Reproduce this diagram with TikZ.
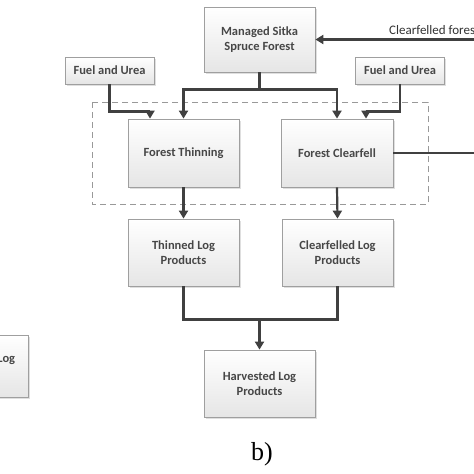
\documentclass[tikz,border=0pt]{standalone}
\usepackage{fontspec}
\setmainfont{Carlito}
\newfontfamily\labelfont{Liberation Serif}
\usetikzlibrary{arrows.meta,shadows}

\tikzset{
  box/.style={draw=gray!75, line width=0.8pt, top color=white, bottom color=gray!20,
    drop shadow={opacity=0.25, shadow xshift=1.5pt, shadow yshift=-1.5pt},
    font=\bfseries\fontsize{12.5}{15}\selectfont, text=black!72, align=center, inner sep=0pt},
  flow/.style={line width=2.2pt, draw=black!75, -{Triangle[length=8pt,width=9pt]}},
  link/.style={line width=2.2pt, draw=black!75},
}

\begin{document}
\begin{tikzpicture}[x=1pt,y=-1pt]
\useasboundingbox (0,0) rectangle (474,474);
\clip (0,0) rectangle (474,474);
\fill[white] (0,0) rectangle (474,474);
% boxes
\node[box, minimum width=111pt, minimum height=65pt] (forest) at (259.5,39.5) {Managed Sitka\\Spruce Forest};
\node[box, minimum width=89pt, minimum height=27pt] (fuelA) at (109.5,70.5) {Fuel and Urea};
\node[box, minimum width=89pt, minimum height=27pt] (fuelB) at (400,70.5) {Fuel and Urea};
\node[box, minimum width=111pt, minimum height=68pt] (thin) at (183.5,153) {Forest Thinning};
\node[box, minimum width=112pt, minimum height=68pt] (clear) at (337,153) {Forest Clearfell};
\node[box, minimum width=111pt, minimum height=67pt] (thinlog) at (183.5,252.5) {Thinned Log\\Products};
\node[box, minimum width=111pt, minimum height=67pt] (clearlog) at (337.5,252.5) {Clearfelled Log\\Products};
\node[box, minimum width=111pt, minimum height=67pt] (harv) at (259.5,383.5) {Harvested Log\\Products};
\node[box, minimum width=102pt, minimum height=62pt] (oldlog) at (-23,366) {Clearfelled Log\\Products};
% operations boundary
\draw[dashed, dash pattern=on 6pt off 4pt, gray!80, line width=1pt] (92,102) rectangle (428,204);
% flows
\coordinate (cfin) at (480,39.5);
\coordinate (cfout) at (480,153);
\draw[flow] (cfin) -- (forest.east);
\node[font=\fontsize{13}{15}\selectfont, text=black!80, anchor=west, inner sep=0pt] (cftext) at (389,30) {Clearfelled forest};
\draw[flow] (forest.south) -- ++(0,17) -| (thin.north);
\draw[flow] (forest.south) -- ++(0,17) -| (clear.north);
\draw[flow] (fuelA.south) -- ++(0,27) -| ([xshift=-33.5pt]thin.north);
\draw[flow] (fuelB.south) -- ++(0,27) -| ([xshift=29pt]clear.north);
\draw[link] (clear.east) -- (cfout);
\draw[flow] (thin.south) -- (thinlog.north);
\draw[flow] (clear.south) -- (clearlog.north);
\draw[link] (thinlog.south) -- ++(0,33) -| (clearlog.south);
\draw[flow] ([yshift=31pt]harv.north) -- (harv.north);
% panel label
\node[font=\labelfont\fontsize{26}{26}\selectfont] (lbl) at (262,454) {b)};
\end{tikzpicture}
\end{document}
